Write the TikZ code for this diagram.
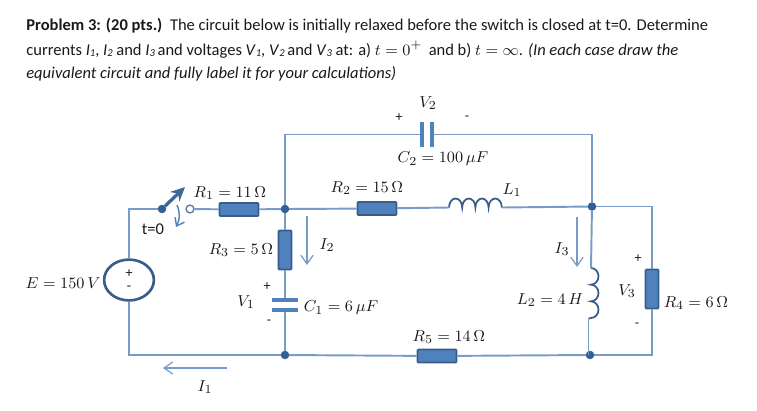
\documentclass[tikz,border=0pt]{standalone}
\usepackage[no-math]{fontspec}
\usepackage{amsmath}
\setmainfont{Carlito}
\usetikzlibrary{shapes.geometric, arrows.meta, positioning, calc}
\definecolor{wireblue}{RGB}{120,155,200}
\definecolor{partblue}{RGB}{79,129,189}
\definecolor{edgeblue}{RGB}{56,93,138}
\definecolor{dotblue}{RGB}{50,95,150}
\tikzset{
  wire/.style={draw=wireblue,line width=1.1pt},
  resbox/.style={rectangle,draw=edgeblue,fill=partblue,line width=1pt,rounded corners=0.5pt,inner sep=0pt},
  reshor/.style={resbox,minimum width=39*0.567pt,minimum height=13*0.567pt},
  resver/.style={resbox,minimum width=13*0.567pt,minimum height=39*0.567pt},
  plate/.style={rectangle,fill=partblue,inner sep=0pt},
  dotnode/.style={circle,fill=dotblue,draw=dotblue,inner sep=0pt,minimum size=4.4pt},
  lab/.style={font=\fontsize{9.4}{11}\selectfont,inner sep=0pt,text=black!90},
  sign/.style={font=\fontsize{8}{10}\selectfont,inner sep=0pt,text=black!90},
  curarrow/.style={draw=wireblue,line width=0.7pt,-{Straight Barb[length=5pt,width=7pt]}},
  line1/.style={anchor=base west,inner sep=0pt,font=\fontsize{9.4}{11}\selectfont,text=black!90}
}
\newcommand{\itsub}[2]{\textit{#1}\raisebox{-.25ex}{\fontsize{6}{7}\selectfont\textit{#2}}}
\begin{document}
\begin{tikzpicture}[x=0.02cm,y=-0.02cm]
    \useasboundingbox (0,0) rectangle (757,410);

    % Text of the problem
    \node[line1] (line1) at (26,30) {\textbf{Problem 3: (20 pts.)}\, The circuit below is initially relaxed before the switch is closed at t=0. Determine};
    \node[line1] (line2) at (26,55) {currents \itsub{I}{1}, \itsub{I}{2} and \itsub{I}{3}\,and voltages \itsub{V}{1}, \itsub{V}{2}\,and \itsub{V}{3} at: a) $t=0^{+}$\, and b) $t=\infty$. \textit{(In each case draw the}};
    \node[line1] (line3) at (26,78) {\textit{equivalent circuit and fully label it for your calculations)}};

    % Junctions
    \node[dotnode] (jtl) at (285,209) {};
    \node[dotnode] (jbl) at (285,355) {};
    \node[dotnode] (jtr) at (592,206.5) {};
    \node[dotnode] (jbr) at (590,355) {};

    % Source
    \node[ellipse,draw=edgeblue,line width=1.5pt,fill=white,minimum width=50*0.567pt,minimum height=41*0.567pt,inner sep=0pt] (E) at (129,280) {};
    \node[sign] (Eplus) at (129,274) {+};
    \node[sign] (Eminus) at (129,288) {-};

    % Switch
    \node[dotnode] (swa) at (162,209) {};
    \node[circle,draw=edgeblue!80,fill=white,line width=0.8pt,inner sep=0pt,minimum size=4.5pt] (swb) at (190,209) {};
    \coordinate (swtip) at (185,187);
    \coordinate (swcurvea) at (177,205);
    \coordinate (swcurveb) at (176,227);

    % Resistors
    \node[reshor] (R1) at (239,209.5) {};
    \node[reshor] (R2) at (377,208.5) {};
    \node[reshor] (R5) at (437,356) {};
    \node[resver] (R3) at (285,250) {};
    \node[resver] (R4) at (652,289) {};

    % Capacitors
    \node[plate,minimum width=26*0.567pt,minimum height=4*0.567pt] (C1a) at (285,300) {};
    \node[plate,minimum width=26*0.567pt,minimum height=4*0.567pt] (C1b) at (285,310) {};
    \node[plate,minimum width=4*0.567pt,minimum height=26*0.567pt] (C2a) at (422,134.5) {};
    \node[plate,minimum width=4*0.567pt,minimum height=26*0.567pt] (C2b) at (432,134.5) {};

    % Inductors
    \coordinate (L1a) at (449,207.5);
    \coordinate (L1b) at (502,207.5);
    \coordinate (L2a) at (591,268);
    \coordinate (L2c) at (591,318);
    \coordinate (L2b) at (588.5,318.5);
    \draw[draw=edgeblue,line width=1pt] (L1a)
      \foreach \i in {1,...,4} { arc[start angle=180,end angle=360,x radius=6.6,y radius=9] };
    \draw[draw=edgeblue,line width=1pt] (L2a)
      \foreach \i in {1,...,3} { arc[start angle=270,end angle=450,x radius=7.5,y radius=8.33] };
    \draw[draw=edgeblue,line width=1pt] (L2c) -- (L2b);

    % Wires
    \draw[wire] (E.north) |- (swa);
    \draw[wire] (E.south) |- (jbl);
    \draw[wire] (swb) -- (R1);
    \draw[wire] (R1) -- (jtl);
    \draw[wire] (jtl) -- (R2);
    \draw[wire] (R2) -- (L1a);
    \draw[wire] (L1b) -- (jtr);
    \draw[wire] (jtl) -- (R3);
    \draw[wire] (R3) -- (C1a);
    \draw[wire] (C1b) -- (jbl);
    \draw[wire] (jbl) -- (R5);
    \draw[wire] (R5) -- (jbr);
    \draw[wire] (jtl) |- (C2a);
    \draw[wire] (C2b) -| (jtr);
    \draw[wire] (jtr) -- (L2a);
    \draw[wire] (L2b) -- (L2b |- jbr);
    \draw[wire] (jtr) -| (R4);
    \draw[wire] (R4) |- (jbr);

    % Switch blade
    \draw[edgeblue!70!partblue,line width=1.9pt,-{Stealth[length=8pt,width=7.5pt]}] (swa) -- (swtip);
    \draw[partblue,line width=0.8pt,-{Straight Barb[length=4pt,width=6pt]}] (swcurvea) to[bend left=25] (swcurveb);

    % Current arrows
    \coordinate (I1a) at (227,368);
    \coordinate (I1b) at (163,368);
    \coordinate (I2a) at (307,216);
    \coordinate (I2b) at (307,265);
    \coordinate (I3a) at (577,217);
    \coordinate (I3b) at (577,267);
    \draw[curarrow] (I1a) -- (I1b);
    \draw[curarrow] (I2a) -- (I2b);
    \draw[curarrow] (I3a) -- (I3b);

    % Labels
    \node[lab] (labE) at (63,283) {$E=150\,V$};
    \node[lab] (labsw) at (153,229) {t=0};
    \node[lab] (labR1) at (230,193) {$R_1=11\,\Omega$};
    \node[lab] (labR2) at (367,188) {$R_2=15\,\Omega$};
    \node[lab] (labR3) at (241,250) {$R_3=5\,\Omega$};
    \node[lab] (labR4) at (696,303) {$R_4=6\,\Omega$};
    \node[lab] (labR5) at (449,337) {$R_5=14\,\Omega$};
    \node[lab] (labC1) at (341,308) {$C_1=6\,\mu F$};
    \node[lab] (labC2) at (443,159) {$C_2=100\,\mu F$};
    \node[lab] (labL1) at (512,190) {$L_1$};
    \node[lab] (labL2) at (550,300) {$L_2=4\,H$};
    \node[lab] (labI1) at (205,387) {$I_1$};
    \node[lab] (labI2) at (327,245) {$I_2$};
    \node[lab] (labI3) at (562,249) {$I_3$};
    \node[lab] (labV1) at (246,302) {$V_1$};
    \node[lab] (labV2) at (428,103) {$V_2$};
    \node[lab] (labV3) at (627,291) {$V_3$};
    \node[sign] (plusV1) at (267,287) {+};
    \node[sign] (minusV1) at (269,322) {-};
    \node[sign] (plusV2) at (399,118) {+};
    \node[sign] (minusV2) at (467,118) {-};
    \node[sign] (plusV3) at (638,259) {+};
    \node[sign] (minusV3) at (637,325) {-};
\end{tikzpicture}
\end{document}
